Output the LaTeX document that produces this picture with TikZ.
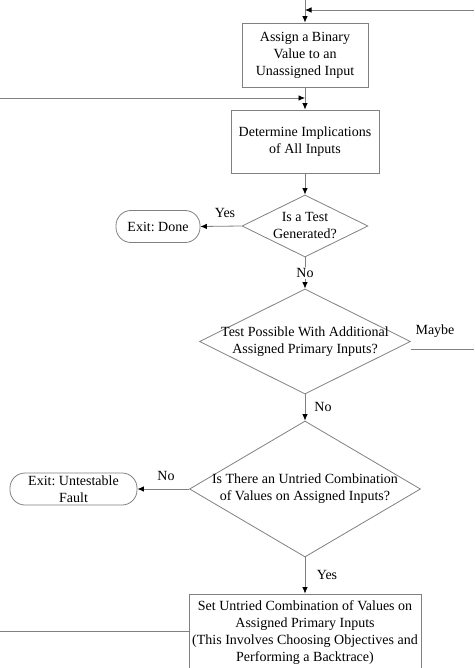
\documentclass[tikz,border=0pt]{standalone}
\usepackage{fontspec}
\setmainfont{Liberation Serif}
\usepackage{xcolor}
\usetikzlibrary{arrows.meta}
\usetikzlibrary{shapes.geometric}
\definecolor{linegray}{RGB}{128,128,128}
\tikzset{
  box/.style={draw=linegray, line width=0.8pt, align=center, inner sep=0pt},
  exitbox/.style={draw=linegray, line width=0.8pt, rounded corners=15pt, align=center, inner sep=0pt, minimum height=32pt},
  decision/.style={draw=linegray, line width=0.8pt, diamond, inner sep=0pt},
  txt/.style={align=center, inner sep=0pt},
  flow/.style={draw=linegray, line width=0.8pt, -{Latex[black,length=6.5pt,width=5.5pt]}},
  plain/.style={draw=linegray, line width=0.8pt}
}
\frenchspacing
\begin{document}
\begin{tikzpicture}[x=1pt, y=-1pt, font=\fontsize{14}{17}\selectfont]
\useasboundingbox (0,0) rectangle (474,668);
% Kaesten
\node[box, minimum width=126pt, minimum height=64pt] (assign) at (305,55) {Assign a Binary\\Value to an\\Unassigned Input};
\node[box, minimum width=148pt, minimum height=63pt] (implic) at (305,141.5) {Determine Implications\\of All Inputs};
\node[box, minimum width=232pt, minimum height=78pt] (setcomb) at (305,633) {Set Untried Combination of Values on\\Assigned Primary Inputs\\(This Involves Choosing Objectives and\\Performing a Backtrace)};
% Rauten, Text extra, damit die Raute nicht waechst
\node[decision, minimum width=126pt, minimum height=62pt] (gen) at (305,226) {};
\node[txt] (gentxt) at (gen) {Is a Test\\Generated?};
\node[decision, minimum width=211pt, minimum height=105pt] (poss) at (305,341.5) {};
\node[txt] (posstxt) at (poss) {Test Possible With Additional\\Assigned Primary Inputs?};
\node[decision, minimum width=231pt, minimum height=136pt] (untried) at (305,489) {};
\node[txt] (untriedtxt) at (untried) {Is There an Untried Combination\\of Values on Assigned Inputs?};
% Ausgaenge
\node[exitbox, minimum width=84pt] (done) at (158,226.5) {Exit: Done};
\node[exitbox, minimum width=127pt] (untest) at (73.5,489) {Exit: Untestable\\Fault};
% freie Enden
\coordinate (topin) at (305,0);
\coordinate (rin) at (474,10);
\coordinate (rjoin) at (305,10);
\coordinate (lin) at (0,98);
\coordinate (ljoin) at (305,98);
\coordinate (mstart) at (411,349);
\coordinate (mout) at (474,349);
\coordinate (bout) at (0,631.5);
% Verbindungen
\draw[flow] (topin) -- (assign.north);
\draw[flow] (rin) -- (rjoin);
\draw[flow] (assign.south) -- (implic.north);
\draw[flow] (lin) -- (ljoin);
\draw[flow] (implic.south) -- (gen.north);
\draw[flow] (gen.west) -- (done.east);
\draw[flow] (gen.south) -- (poss.north);
\draw[plain] (mstart) -- (mout);
\draw[flow] (poss.south) -- (untried.north);
\draw[flow] (untried.west) -- (untest.east);
\draw[flow] (untried.south) -- (setcomb.north);
\draw[plain] (setcomb.west |- bout) -- (bout);
% Beschriftungen
\node[txt] (yesgen) at (225,213) {Yes};
\node[txt, fill=white, inner sep=1pt] (nogen) at (305,273) {No};
\node[txt] (maybe) at (435,331) {Maybe};
\node[txt] (noposs) at (323,407) {No};
\node[txt] (nountried) at (166,476) {No};
\node[txt] (yesuntried) at (327,575) {Yes};
\end{tikzpicture}
\end{document}
